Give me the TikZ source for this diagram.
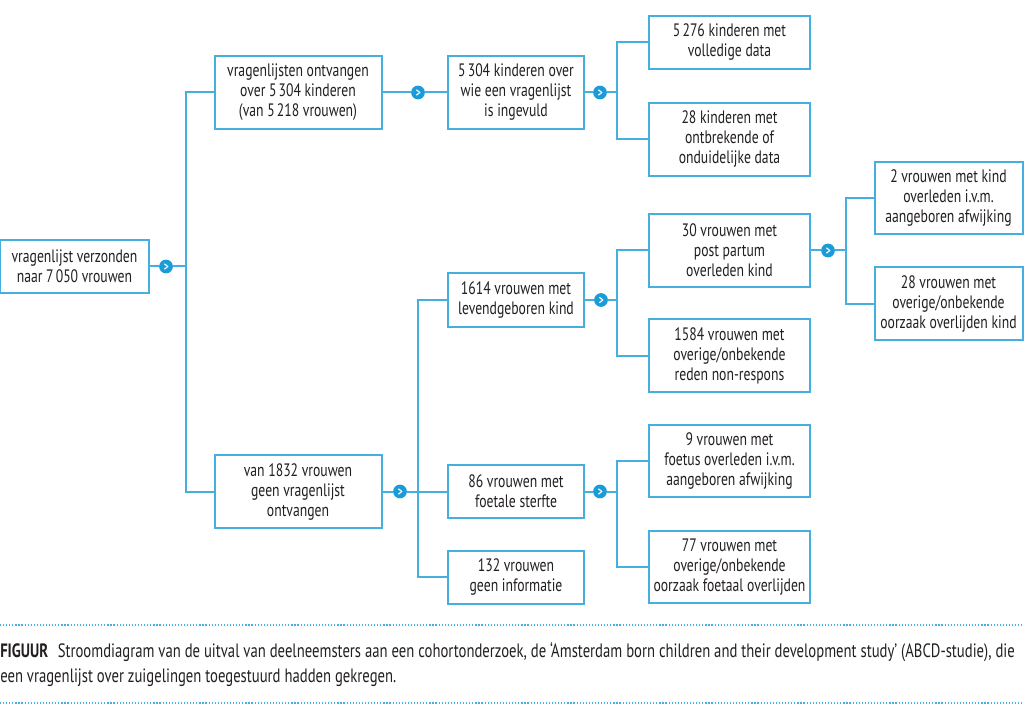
\documentclass[tikz,border=0pt]{standalone}
\usepackage{fontspec}
\setmainfont{PT Sans}[FakeStretch=0.76]
\definecolor{boxblue}{HTML}{45B0E0}
\definecolor{dotblue}{HTML}{1B9BD8}
\definecolor{txt}{HTML}{231F20}
\newcommand\bx[6]{\node[box, minimum width=#4*0.75pt, minimum height=#5*0.75pt] (#1) at (#2,#3) {#6};}
\newcommand\ts{\kern0.12em}
\begin{document}
\begin{tikzpicture}[x=0.75pt,y=-0.75pt,
  box/.style={draw=boxblue, line width=1.5pt, fill=white, align=center, inner sep=0pt, text=txt,
    font=\fontsize{13.5}{15}\selectfont},
  conn/.style={draw=boxblue, line width=1.5pt},
  dotnode/.style={circle, fill=dotblue, minimum size=10.3pt, inner sep=0pt,
    path picture={\draw[white, line width=0.85pt, line cap=round, line join=round]
      ([shift={(-1.1pt,1.9pt)}]path picture bounding box.center) --
      ([shift={(1.4pt,0pt)}]path picture bounding box.center) --
      ([shift={(-1.1pt,-1.9pt)}]path picture bounding box.center);}},
  dotline/.style={draw=boxblue, line width=1.5pt, dash pattern=on 0.9pt off 1.4pt},
  captext/.style={anchor=west, inner sep=0pt, text=txt, font=\fontsize{14.5}{15}\selectfont}
]
\useasboundingbox (0,0) rectangle (1024,709);

% boxes
\bx{A}{74.5}{266.5}{149}{53}{vragenlijst verzonden\\naar 7\ts050 vrouwen}
\bx{B}{298}{92.5}{167}{73}{vragenlijsten ontvangen\\over 5\ts304 kinderen\\(van 5\ts218 vrouwen)}
\bx{C}{516}{92.5}{136}{73}{5\ts304 kinderen over\\wie een vragenlijst\\is ingevuld}
\bx{D}{729.5}{42.5}{161}{53}{5\ts276 kinderen met\\volledige data}
\bx{E}{729.5}{139.5}{161}{73}{28 kinderen met\\ontbrekende of\\onduidelijke data}
\bx{F}{298}{491.5}{167}{73}{van 1832 vrouwen\\geen vragenlijst\\ontvangen}
\bx{G}{516}{300}{136}{53}{1614 vrouwen met\\levendgeboren kind}
\bx{H}{516}{491.5}{136}{53}{86 vrouwen met\\foetale sterfte}
\bx{I}{516}{577}{136}{53}{132 vrouwen\\geen informatie}
\bx{J}{729.5}{461}{161}{72}{9 vrouwen met\\foetus overleden i.v.m.\\aangeboren afwijking}
\bx{K}{729.5}{567}{161}{72}{77 vrouwen met\\overige/onbekende\\oorzaak foetaal overlijden}
\bx{L}{729.5}{250.5}{161}{73}{30 vrouwen met\\post partum\\overleden kind}
\bx{M}{729.5}{355.5}{161}{73}{1584 vrouwen met\\overige/onbekende\\reden non-respons}
\bx{N}{948.5}{198}{148}{72}{2 vrouwen met kind\\overleden i.v.m.\\aangeboren afwijking}
\bx{O}{948.5}{303.5}{148}{73}{28 vrouwen met\\overige/onbekende\\oorzaak overlijden kind}

% dots
\node[dotnode] (d1) at (166,266.5) {};
\node[dotnode] (d2) at (418,92.5) {};
\node[dotnode] (d3) at (600,92.5) {};
\node[dotnode] (d4) at (400,491.5) {};
\node[dotnode] (d5) at (601,300) {};
\node[dotnode] (d6) at (600,491.5) {};
\node[dotnode] (d7) at (828,250.5) {};

% junctions
\coordinate (jA) at (186,266.5);
\coordinate (jC) at (617,92.5);
\coordinate (jF) at (418,491.5);
\coordinate (jG) at (617,300);
\coordinate (jH) at (617,491.5);
\coordinate (jL) at (846,250.5);

% connectors
\draw[conn] (A) -- (d1) -- (jA);
\draw[conn] (B.west) -| (jA) |- (F.west);
\draw[conn] (B) -- (d2) -- (C);
\draw[conn] (C) -- (d3) -- (jC);
\draw[conn] (D.west) -| (jC) |- (E.west);
\draw[conn] (F) -- (d4) -- (H);
\draw[conn] (G.west) -| (jF) |- (I.west);
\draw[conn] (G) -- (d5) -- (jG);
\draw[conn] (L.west) -| (jG) |- (M.west);
\draw[conn] (H) -- (d6) -- (jH);
\draw[conn] (J.west) -| (jH) |- (K.west);
\draw[conn] (L) -- (d7) -- (jL);
\draw[conn] (N.west) -| (jL) |- (O.west);

% caption
\draw[dotline] (0,625) -- (1024,625);
\draw[dotline] (0,703) -- (1024,703);
\node[captext] (cap1) at (0,652) {\textbf{FIGUUR}\enspace Stroomdiagram van de uitval van deelneemsters aan een cohortonderzoek, de ‘Amsterdam born children and their development study’ (ABCD-studie), die};
\node[captext] (cap2) at (0,678) {een vragenlijst over zuigelingen toegestuurd hadden gekregen.};
\end{tikzpicture}
\end{document}
